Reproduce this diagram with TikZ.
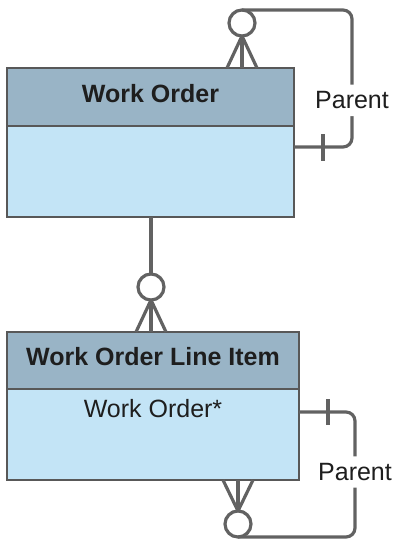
\documentclass[tikz,border=0pt]{standalone}
\usepackage{fontspec}
\setmainfont{Liberation Sans}
\usetikzlibrary{positioning}
\definecolor{hdrfill}{RGB}{153,180,198}
\definecolor{bodyfill}{RGB}{195,228,246}
\definecolor{edgegray}{RGB}{88,88,88}
\definecolor{linkgray}{RGB}{98,98,98}
\definecolor{inkgray}{RGB}{30,30,30}
\tikzset{
    hdr/.style={
        draw=edgegray, line width=2pt, fill=hdrfill,
        inner sep=0pt, outer sep=0pt, text=inkgray,
        text height=18pt, text depth=8pt,
        font=\fontsize{25}{29}\selectfont\bfseries
    },
    tbody/.style={
        draw=edgegray, line width=2pt, fill=bodyfill,
        inner sep=0pt, outer sep=0pt, minimum height=91pt
    },
    attr/.style={inner sep=0pt, text=inkgray, font=\fontsize{25}{29}\selectfont},
    ring/.style={circle, draw=linkgray, line width=3.2pt, minimum size=26pt, inner sep=0pt, outer sep=0pt},
    link/.style={draw=linkgray, line width=3.2pt},
    lbl/.style={fill=white, inner xsep=2pt, inner ysep=7pt, text=inkgray, font=\fontsize{25}{29}\selectfont}
}

\begin{document}
\begin{tikzpicture}[x=1pt,y=-1pt]
    \useasboundingbox (0,0) rectangle (400,551);

    % Work Order table
    \node[hdr, minimum width=287pt, minimum height=58pt] (wo) at (150.5,97) {Work Order};
    \node[tbody, minimum width=287pt, below=0pt of wo] (wobody) {};

    % Work Order Line Item table
    \node[hdr, minimum width=292pt, minimum height=57pt] (li) at (153,360.5) {Work Order Line Item};
    \node[tbody, minimum width=292pt, below=0pt of li] (libody) {};
    \node[attr, anchor=base] (liattr) at ([yshift=-28pt]li.south) {Work Order*};

    % zero-or-many ends
    \node[ring] (woring) at (242,23) {};
    \node[ring] (midring) at (151,287) {};
    \node[ring] (liring) at (238,524) {};

    % attach points of the self links
    \coordinate (woself) at ([yshift=-21pt]wobody.north east);
    \coordinate (liself) at ([yshift=-23pt]libody.north east);

    % Work Order -> Work Order (Parent)
    \draw[link, rounded corners=9pt] (woring.north) -- (352,10)
        -- node[lbl, pos=0.66] (woparent) {Parent} (352,147) -- (woself);
    \draw[link] ([xshift=29pt,yshift=13pt]woself) -- ([xshift=29pt,yshift=-14pt]woself);
    \foreach \dx in {-15,0,15}
        \draw[link] (woring.south) -- ([xshift=\dx pt]woring |- wo.north);

    % Work Order -> Work Order Line Item
    \draw[link] (wobody.south -| midring) -- (midring.north);
    \foreach \dx in {-15,0,15}
        \draw[link] (midring.south) -- ([xshift=\dx pt]midring |- li.north);

    % Work Order Line Item -> Work Order Line Item (Parent)
    \draw[link, rounded corners=9pt] (liself) -- (355,412)
        -- node[lbl, pos=0.48] (liparent) {Parent} (355,537) -- (liring.south);
    \draw[link] ([xshift=29pt,yshift=13pt]liself) -- ([xshift=29pt,yshift=-13pt]liself);
    \foreach \dx in {-15,0,15}
        \draw[link] (liring.north) -- ([xshift=\dx pt]liring |- libody.south);
\end{tikzpicture}
\end{document}
